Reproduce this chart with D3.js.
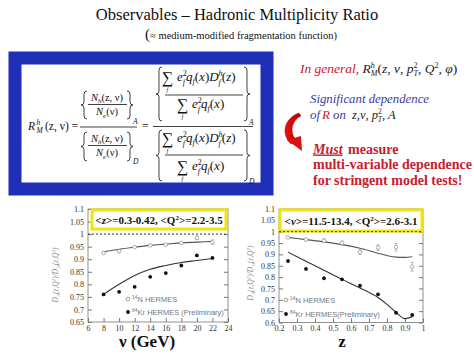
<!DOCTYPE html>
<html><head><meta charset="utf-8">
<script src="https://cdn.jsdelivr.net/npm/d3@7"></script>
<style>body{margin:0;background:#fff}svg{display:block}</style>
</head><body><svg id="c" width="474" height="355"></svg>
<script>
// ---------- data ----------
const nuValues = [8, 10, 12, 14, 16, 18, 20, 22];
const nuN      = [0.925, 0.932, 0.948, 0.955, 0.958, 0.965, 0.985, 0.968];
const nuNErr   = [0.004, 0.004, 0.004, 0.004, 0.004, 0.005, 0.007, 0.009];
const nuKr     = [0.760, 0.770, 0.790, 0.830, 0.845, 0.875, 0.915, 0.905];
const nuNModel = [0.930, 0.940, 0.948, 0.955, 0.960, 0.965, 0.968, 0.971];
const nuKrModel= [0.760, 0.800, 0.835, 0.860, 0.875, 0.887, 0.895, 0.903];
const nuTicks  = [6, 8, 10, 12, 14, 16, 18, 20, 22, 24];
const leftRatioTicks = [0.65, 0.7, 0.75, 0.8, 0.85, 0.9, 0.95, 1, 1.05, 1.1];

const zValues  = [0.25, 0.35, 0.45, 0.55, 0.65, 0.75, 0.85, 0.94];
const zN       = [0.975, 0.965, 0.960, 0.950, 0.910, 0.930, 0.932, 0.846];
const zNErr    = [0.005, 0.006, 0.008, 0.009, 0.010, 0.013, 0.017, 0.020];
const zKr      = [0.871, 0.836, 0.795, 0.790, 0.762, 0.724, 0.643, 0.633];
const zModelPts= [0.25, 0.35, 0.45, 0.55, 0.65, 0.75, 0.80, 0.85, 0.90, 0.94];
const zNModel  = [0.975, 0.965, 0.955, 0.943, 0.927, 0.905, 0.895, 0.888, 0.887, 0.890];
const zKrModel = [0.910, 0.870, 0.830, 0.790, 0.752, 0.710, 0.680, 0.645, 0.617, 0.625];
const zTicks   = [0.2, 0.3, 0.4, 0.5, 0.6, 0.7, 0.8, 0.9, 1];
const rightRatioTicks = [0.6, 0.65, 0.7, 0.75, 0.8, 0.85, 0.9, 0.95, 1, 1.05, 1.1];

// ---------- setup ----------
const svg = d3.select('#c');
const SERIF = 'Liberation Serif, Times New Roman, serif';
const SANS = 'Liberation Sans, Arial, sans-serif';
svg.append('rect').attr('width', 474).attr('height', 355).attr('fill', '#fff');

// title
svg.append('text').attr('x', 237).attr('y', 20).attr('text-anchor', 'middle')
  .attr('font-family', SERIF).attr('font-size', 16.5).attr('fill', '#111')
  .text('Observables – Hadronic Multiplicity Ratio');
const sub = svg.append('text').attr('x', 241).attr('y', 39).attr('text-anchor', 'middle')
  .attr('font-family', SERIF).attr('font-size', 10.5).attr('fill', '#111');
sub.append('tspan').attr('font-size', 15).text('(');
sub.append('tspan').text('≈ medium-modified fragmentation function)');

// ---------- formula box ----------
svg.append('rect').attr('x', 15).attr('y', 58).attr('width', 252).attr('height', 131)
  .attr('fill', '#fff').attr('stroke', '#1f2fb8').attr('stroke-width', 13);

const fg = svg.append('g').attr('font-family', SERIF).attr('fill', '#111');
function txt(x, y, size, s, italic, anchor) {
  return fg.append('text').attr('x', x).attr('y', y).attr('font-size', size)
    .attr('font-style', italic ? 'italic' : 'normal')
    .attr('text-anchor', anchor || 'start').text(s);
}
function hline(x0, x1, y) {
  fg.append('line').attr('x1', x0).attr('x2', x1).attr('y1', y).attr('y2', y)
    .attr('stroke', '#111').attr('stroke-width', 0.8);
}
function brace(x, y0, y1, dir) {
  const m = (y0 + y1) / 2, d = 3 * dir, r = 3;
  const p = `M${x + d},${y0} Q${x},${y0} ${x},${y0 + r} L${x},${m - r} Q${x},${m} ${x - d},${m}` +
            ` Q${x},${m} ${x},${m + r} L${x},${y1 - r} Q${x},${y1} ${x + d},${y1}`;
  fg.append('path').attr('d', p).attr('fill', 'none').attr('stroke', '#111').attr('stroke-width', 0.8);
}
function nFrac(cx, y, gap) {
  const t1 = fg.append('text').attr('x', cx).attr('y', y).attr('font-size', 10.5).attr('text-anchor', 'middle');
  t1.append('tspan').attr('font-style', 'italic').text('N');
  t1.append('tspan').attr('font-style', 'italic').attr('font-size', 7).attr('dy', 2.5).text('h');
  t1.append('tspan').attr('dy', -2.5).text('(z, ν)');
  const t2 = fg.append('text').attr('x', cx).attr('y', y + gap).attr('font-size', 10.5).attr('text-anchor', 'middle');
  t2.append('tspan').attr('font-style', 'italic').text('N');
  t2.append('tspan').attr('font-style', 'italic').attr('font-size', 7).attr('dy', 2.5).text('e');
  t2.append('tspan').attr('dy', -2.5).text('(ν)');
}
function sumTerm(x, y, withD) {
  fg.append('text').attr('x', x).attr('y', y + 1.5).attr('font-size', 16).text('∑');
  txt(x + 4.5, y + 10.5, 6, 'f', true);
  const t = fg.append('text').attr('x', x + 15).attr('y', y).attr('font-size', 13).attr('font-style', 'italic');
  t.append('tspan').text('e');
  t.append('tspan').attr('font-size', 8).attr('font-style', 'normal').attr('dy', -5).text('2');
  t.append('tspan').attr('font-size', 8).attr('dx', -4).attr('dy', 8.5).text('f');
  t.append('tspan').attr('dy', -3.5).attr('dx', 1).text('q');
  t.append('tspan').attr('font-size', 8).attr('dy', 2.5).text('f');
  t.append('tspan').attr('dy', -2.5).attr('font-style', 'normal').text('(');
  t.append('tspan').text('x');
  t.append('tspan').attr('font-style', 'normal').text(')');
  if (withD) {
    t.append('tspan').text('D');
    t.append('tspan').attr('font-size', 8).attr('dy', -5).text('h');
    t.append('tspan').attr('font-size', 8).attr('dx', -4).attr('dy', 8.5).text('f');
    t.append('tspan').attr('dy', -3.5).attr('dx', 1).attr('font-style', 'normal').text('(');
    t.append('tspan').text('z');
    t.append('tspan').attr('font-style', 'normal').text(')');
  }
}
// left-hand side
txt(28, 130, 11.5, 'R', true);
txt(36.5, 125, 7.5, 'h', true);
txt(36.5, 133, 7.5, 'M', true);
txt(45, 130, 11.5, '(z, ν)  =', false);
// first fraction
brace(84, 91, 119, 1); brace(130, 91, 119, -1);
nFrac(107, 100.5, 14.5); hline(88, 127, 104.5);
txt(133, 124, 7.5, 'A', true);
hline(80, 137, 127);
brace(84, 132, 161, 1); brace(130, 132, 161, -1);
nFrac(107, 141.5, 14.5); hline(88, 127, 145.5);
txt(133, 164, 7.5, 'D', true);
txt(142, 130, 11.5, '=', false);
// second fraction
brace(159, 67, 121, 1); brace(247, 67, 121, -1);
sumTerm(162, 81, true); hline(165, 243, 95); sumTerm(177, 108, false);
txt(249, 125, 7.5, 'A', true);
hline(153, 253, 126.5);
brace(159, 130, 181, 1); brace(247, 130, 181, -1);
sumTerm(162, 142, true); hline(165, 243, 155); sumTerm(177, 170, false);
txt(249, 184, 7.5, 'D', true);

// ---------- right text ----------
const RED = '#c8202e', BLUE = '#3a3aa6';
const g1 = svg.append('text').attr('x', 300).attr('y', 73).attr('font-family', SERIF).attr('font-size', 13.5).attr('font-style', 'italic');
g1.append('tspan').attr('fill', RED).text('In general, ');
g1.append('tspan').attr('fill', '#222').text('R');
g1.append('tspan').attr('fill', '#222').attr('font-size', 8).attr('dy', -5).text('h');
g1.append('tspan').attr('fill', '#222').attr('font-size', 8).attr('dx', -4).attr('dy', 8).text('M');
g1.append('tspan').attr('fill', '#222').attr('dy', -3).attr('font-style', 'normal').text('(');
g1.append('tspan').attr('fill', '#222').text('z, ν, p');
g1.append('tspan').attr('fill', '#222').attr('font-size', 8).attr('font-style', 'normal').attr('dy', -5).text('2');
g1.append('tspan').attr('fill', '#222').attr('font-size', 8).attr('dx', -4).attr('dy', 8).text('T');
g1.append('tspan').attr('fill', '#222').attr('dy', -3).text(', Q');
g1.append('tspan').attr('fill', '#222').attr('font-size', 8).attr('font-style', 'normal').attr('dy', -5).text('2');
g1.append('tspan').attr('fill', '#222').attr('dy', 5).text(', φ');
g1.append('tspan').attr('fill', '#222').attr('font-style', 'normal').text(')');

svg.append('text').attr('x', 310).attr('y', 103).attr('font-family', SERIF).attr('font-size', 12.8)
  .attr('font-style', 'italic').attr('fill', BLUE).text('Significant dependence');
const rowY = 118.5;
svg.append('text').attr('x', 310).attr('y', rowY).attr('font-family', SERIF).attr('font-size', 12.8)
  .attr('font-style', 'italic').attr('fill', BLUE).text('of');
svg.append('text').attr('x', 322).attr('y', rowY).attr('font-family', SERIF).attr('font-size', 12.8)
  .attr('font-style', 'italic').attr('fill', RED).text('R');
svg.append('text').attr('x', 333).attr('y', rowY).attr('font-family', SERIF).attr('font-size', 12.8)
  .attr('font-style', 'italic').attr('fill', BLUE).text('on');
const g2 = svg.append('text').attr('x', 352).attr('y', rowY).attr('font-family', SERIF).attr('font-size', 12.5)
  .attr('font-style', 'italic').attr('fill', '#222');
g2.append('tspan').text('z,ν, p');
g2.append('tspan').attr('font-size', 7.5).attr('font-style', 'normal').attr('dy', -5).text('2');
g2.append('tspan').attr('font-size', 7.5).attr('dx', -4).attr('dy', 8).text('T');
g2.append('tspan').attr('dy', -3).text(', A');

// curved arrow
const defs = svg.append('defs');
const grad = defs.append('linearGradient').attr('id', 'ag').attr('x1', 0).attr('y1', 0).attr('x2', 1).attr('y2', 0);
grad.append('stop').attr('offset', '0%').attr('stop-color', '#e11');
grad.append('stop').attr('offset', '100%').attr('stop-color', '#a00');
svg.append('path')
  .attr('d', 'M299,113 C285,118 280,133 291,144 L296,140 C289,132 292,120 301,116 Z')
  .attr('fill', 'url(#ag)').attr('stroke', '#b00').attr('stroke-width', 0.5);
svg.append('path').attr('d', 'M287,140 L301,136 L302,151 Z').attr('fill', '#d11');

const b1 = svg.append('text').attr('x', 313).attr('y', 153.5).attr('font-family', SERIF)
  .attr('font-size', 14).attr('font-weight', 'bold').attr('fill', RED);
b1.append('tspan').attr('font-style', 'italic').attr('text-decoration', 'underline').text('Must');
b1.append('tspan').attr('dx', 2).text(' measure');
svg.append('text').attr('x', 313).attr('y', 169).attr('font-family', SERIF).attr('font-size', 14)
  .attr('font-weight', 'bold').attr('fill', RED).text('multi-variable dependence');
svg.append('text').attr('x', 313).attr('y', 184.5).attr('font-family', SERIF).attr('font-size', 14)
  .attr('font-weight', 'bold').attr('fill', RED).text('for stringent model tests!');

// ---------- plots ----------
function panel(cfg) {
  const { x, y, xTicks, yTicks, xFmt } = cfg;
  const g = svg.append('g');
  const [x0, x1] = x.range(), [y0, y1] = y.range();
  g.append('rect').attr('x', x0).attr('y', y1).attr('width', x1 - x0).attr('height', y0 - y1)
    .attr('fill', 'none').attr('stroke', '#777').attr('stroke-width', 0.8);
  const ax = g.append('g').attr('transform', `translate(0,${y0})`)
    .call(d3.axisBottom(x).tickValues(xTicks).tickFormat(xFmt).tickSizeInner(-4).tickSizeOuter(0).tickPadding(3));
  const ay = g.append('g').attr('transform', `translate(${x0},0)`)
    .call(d3.axisLeft(y).tickValues(yTicks).tickFormat(d3.format('~g')).tickSizeInner(-4).tickSizeOuter(0).tickPadding(4));
  [ax, ay].forEach(a => {
    a.select('.domain').remove();
    a.selectAll('line').attr('stroke', '#777');
    a.selectAll('text').attr('font-family', SERIF).attr('font-size', 8).attr('fill', '#333');
  });
  g.append('g').attr('transform', `translate(${x1},0)`)
    .call(d3.axisRight(y).tickValues(yTicks).tickFormat('').tickSizeInner(-4).tickSizeOuter(0))
    .call(a => { a.select('.domain').remove(); a.selectAll('line').attr('stroke', '#777'); });
  // yellow box
  g.append('rect').attr('x', cfg.box[0]).attr('y', cfg.box[1]).attr('width', cfg.box[2]).attr('height', cfg.box[3])
    .attr('fill', '#fff').attr('stroke', '#f2e30c').attr('stroke-width', 3);
  const bt = g.append('text').attr('x', cfg.box[0] + cfg.box[2] / 2).attr('y', cfg.box[1] + cfg.box[3] / 2 + 4)
    .attr('text-anchor', 'middle').attr('font-family', SERIF).attr('font-size', 11).attr('font-weight', 'bold').attr('fill', '#111');
  bt.append('tspan').text('<');
  bt.append('tspan').attr('font-style', 'italic').text(cfg.boxVar);
  bt.append('tspan').text(cfg.boxA + ', <Q');
  bt.append('tspan').attr('font-size', 7).attr('dy', -4).text('2');
  bt.append('tspan').attr('dy', 4).text(cfg.boxB);
  // dashed line at 1
  g.append('line').attr('x1', x0).attr('x2', x1).attr('y1', y(1)).attr('y2', y(1))
    .attr('stroke', '#333').attr('stroke-width', 1).attr('stroke-dasharray', '2,2');
  // model curves
  const line = d3.line().x(d => x(d[0])).y(d => y(d[1])).curve(d3.curveMonotoneX);
  g.append('path').attr('d', line(d3.zip(cfg.mx, cfg.mN))).attr('fill', 'none').attr('stroke', '#555').attr('stroke-width', 1.1);
  g.append('path').attr('d', line(d3.zip(cfg.mx, cfg.mKr))).attr('fill', 'none').attr('stroke', '#333').attr('stroke-width', 1.1);
  // N error bars + points
  cfg.px.forEach((v, i) => {
    const yc = y(cfg.pN[i]), e = Math.abs(y(cfg.pN[i] + cfg.pNErr[i]) - yc);
    g.append('line').attr('x1', x(v)).attr('x2', x(v)).attr('y1', yc - e).attr('y2', yc + e).attr('stroke', '#aaa').attr('stroke-width', 0.8);
    g.append('line').attr('x1', x(v) - 1.5).attr('x2', x(v) + 1.5).attr('y1', yc - e).attr('y2', yc - e).attr('stroke', '#aaa').attr('stroke-width', 0.8);
    g.append('line').attr('x1', x(v) - 1.5).attr('x2', x(v) + 1.5).attr('y1', yc + e).attr('y2', yc + e).attr('stroke', '#aaa').attr('stroke-width', 0.8);
  });
  g.selectAll(null).data(d3.zip(cfg.px, cfg.pN)).join('circle')
    .attr('cx', d => x(d[0])).attr('cy', d => y(d[1])).attr('r', 1.8)
    .attr('fill', '#fff').attr('stroke', '#999').attr('stroke-width', 0.8);
  g.selectAll(null).data(d3.zip(cfg.px, cfg.pKr)).join('circle')
    .attr('cx', d => x(d[0])).attr('cy', d => y(d[1])).attr('r', 1.9).attr('fill', '#111');
  // legend
  const L = cfg.leg;
  g.append('circle').attr('cx', L[0]).attr('cy', L[1]).attr('r', 1.8).attr('fill', '#fff').attr('stroke', '#888').attr('stroke-width', 0.8);
  g.append('circle').attr('cx', L[0]).attr('cy', L[2]).attr('r', 1.9).attr('fill', '#111');
  const l1 = g.append('text').attr('x', L[0] + 4).attr('y', L[1] + 3).attr('font-family', SANS).attr('font-size', 7.5).attr('fill', '#777');
  l1.append('tspan').attr('font-size', 5).attr('dy', -3).text('14');
  l1.append('tspan').attr('dy', 3).text('N HERMES');
  const l2 = g.append('text').attr('x', L[0] + 4).attr('y', L[2] + 3).attr('font-family', SANS).attr('font-size', 7.5).attr('fill', '#777');
  l2.append('tspan').attr('font-size', 5).attr('dy', -3).text('84');
  l2.append('tspan').attr('dy', 3).text(cfg.krLabel);
  // y title
  const yt = g.append('text').attr('transform', `translate(${cfg.ytx},${cfg.yty}) rotate(-90)`)
    .attr('text-anchor', 'middle').attr('font-family', SERIF).attr('font-style', 'italic').attr('font-size', 7.5).attr('fill', '#888');
  yt.append('tspan').text('D');
  yt.append('tspan').attr('font-size', 5).attr('dy', 2).text('A');
  yt.append('tspan').attr('dy', -2).text('(z,Q');
  yt.append('tspan').attr('font-size', 5).attr('dy', -3).text('2');
  yt.append('tspan').attr('dy', 3).text(')/D');
  yt.append('tspan').attr('font-size', 5).attr('dy', 2).text('D');
  yt.append('tspan').attr('dy', -2).text('(z,Q');
  yt.append('tspan').attr('font-size', 5).attr('dy', -3).text('2');
  yt.append('tspan').attr('dy', 3).text(')');
  svg.append('text').attr('x', cfg.xtx).attr('y', 347).attr('text-anchor', 'middle')
    .attr('font-family', SERIF).attr('font-size', 17).attr('font-weight', 'bold').attr('fill', '#111').text(cfg.xTitle);
}

panel({
  x: d3.scaleLinear([6, 24], [88, 228]), y: d3.scaleLinear([0.65, 1.1], [322, 209]),
  xTicks: nuTicks, yTicks: leftRatioTicks, xFmt: d3.format('d'),
  box: [92, 210, 134, 19], boxVar: 'z', boxA: '>=0.3-0.42', boxB: '>=2.2-3.5',
  mx: nuValues, mN: nuNModel, mKr: nuKrModel,
  px: nuValues, pN: nuN, pNErr: nuNErr, pKr: nuKr,
  leg: [128, 299, 312], krLabel: 'Kr HERMES (Preliminary)',
  ytx: 58, yty: 275, xtx: 147, xTitle: 'ν (GeV)'
});
panel({
  x: d3.scaleLinear([0.2, 1], [279, 423]), y: d3.scaleLinear([0.6, 1.1], [322.5, 209]),
  xTicks: zTicks, yTicks: rightRatioTicks, xFmt: d3.format('~g'),
  box: [280, 210, 142, 21], boxVar: 'ν', boxA: '>=11.5-13.4', boxB: '>=2.6-3.1',
  mx: zModelPts, mN: zNModel, mKr: zKrModel,
  px: zValues, pN: zN, pNErr: zNErr, pKr: zKr,
  leg: [286, 300, 314], krLabel: 'Kr HERMES(Preliminary)',
  ytx: 253, yty: 273, xtx: 342, xTitle: 'z'
});
</script></body></html>
